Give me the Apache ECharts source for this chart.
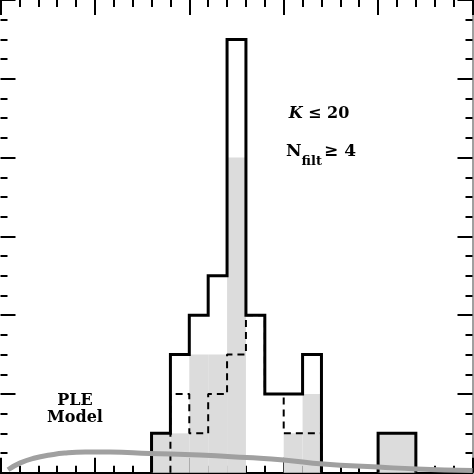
<!DOCTYPE html>
<html>
<head>
<meta charset="utf-8">
<script src="https://cdn.jsdelivr.net/npm/echarts@6/dist/echarts.min.js"></script>
<style>html,body{margin:0;padding:0;background:#fff;overflow:hidden;}#c{width:474px;height:474px;}</style>
</head>
<body>
<div id="c"></div>
<script>
// Histogram bins: width 0.2 starting at 0 (25 bins over 0..5)
const binWidth = 0.2;
const totalCounts  = [0,0,0,0,0,0,0,0,2,6,8,10,22,8,4,4,6,0,0,0,2,2,0,0,0];
const filledCounts = [0,0,0,0,0,0,0,0,2,2,6,6,16,0,0,2,4,0,0,0,2,2,0,0,0];
const dashedCounts = [0,0,0,0,0,0,0,0,0,4,2,4,6,8,4,2,2,0,0,0,0,0,0,0,0];
// PLE model curve
const modelX = [0.08,0.21,0.365,0.525,0.68,0.9,1.16,1.58,2.11,2.61,3.0,3.42,4.0,4.41,5.0];
const modelY = [0.15,0.5,0.75,0.9,1.0,1.05,1.05,0.98,0.9,0.77,0.65,0.44,0.29,0.19,0.11];

function outlineRuns(counts){
  const runs = [];
  let cur = null;
  for (let i = 0; i < counts.length; i++) {
    const x0 = i * binWidth, x1 = (i + 1) * binWidth, c = counts[i];
    if (c > 0) {
      if (!cur) { cur = [[x0, 0]]; }
      cur.push([x0, c], [x1, c]);
    } else if (cur) {
      cur.push([x0, 0]); runs.push(cur); cur = null;
    }
  }
  if (cur) { cur.push([counts.length * binWidth, 0]); runs.push(cur); }
  return runs;
}

const chart = echarts.init(document.getElementById('c'), null, {renderer: 'canvas'});

const tickStyle = {color: '#000', width: 2};
function xAx(pos, lineColor){
  return {
    type: 'value', min: 0, max: 5, interval: 1, position: pos,
    axisLine: {show: !!lineColor, onZero: false, lineStyle: {color: lineColor || '#000', width: 2}},
    axisTick: {show: true, inside: true, length: 15, lineStyle: tickStyle},
    minorTick: {show: true, splitNumber: 5, length: 7, lineStyle: tickStyle},
    axisLabel: {show: false}, splitLine: {show: false}, minorSplitLine: {show: false}
  };
}
function yAx(pos, lineColor){
  return {
    type: 'value', min: 0, max: 24, interval: 4, position: pos,
    axisLine: {show: !!lineColor, onZero: false, lineStyle: {color: lineColor || '#000', width: 2}},
    axisTick: {show: true, inside: true, length: 15, lineStyle: tickStyle},
    minorTick: {show: true, splitNumber: 4, length: 7, lineStyle: tickStyle},
    axisLabel: {show: false}, splitLine: {show: false}, minorSplitLine: {show: false}
  };
}

const series = [];
series.push({
  type: 'custom', xAxisIndex: 0, yAxisIndex: 0, z: 1,
  data: filledCounts.map((c, i) => [i * binWidth, (i + 1) * binWidth, c]).filter(d => d[2] > 0),
  encode: {x: [0, 1], y: 2},
  renderItem: function(params, api){
    const p0 = api.coord([api.value(0), 0]);
    const p1 = api.coord([api.value(1), api.value(2)]);
    return {type: 'rect', shape: {x: p0[0], y: p1[1], width: p1[0] - p0[0], height: p0[1] - p1[1]},
            style: {fill: '#dcdcdc'}};
  }
});
outlineRuns(dashedCounts).forEach(run => series.push({
  type: 'line', data: run, showSymbol: false, z: 2, animation: false,
  lineStyle: {color: '#000', width: 2, type: [7, 5]}
}));
outlineRuns(totalCounts).forEach(run => series.push({
  type: 'line', data: run, showSymbol: false, z: 3, animation: false,
  lineStyle: {color: '#000', width: 3, join: 'miter'}
}));
series.push({
  type: 'line', data: modelX.map((x, i) => [x, modelY[i]]), smooth: true, showSymbol: false, z: 4,
  animation: false, lineStyle: {color: '#a0a0a0', width: 5}
});

const F = '"DejaVu Serif"';
chart.setOption({
  animation: false,
  grid: {left: 0.5, right: 1.5, top: 0, bottom: 1.25},
  xAxis: [xAx('bottom', '#000'), xAx('top', null)],
  yAxis: [yAx('left', null), yAx('right', '#a0a0a0')],
  series: series,
  graphic: [
    {type: 'text', x: 319, y: 114, z: 10,
     style: {text: '{k|K} ≤ 20', textAlign: 'center', textVerticalAlign: 'middle',
             font: 'bold 16px ' + F, fill: '#000',
             rich: {k: {fontStyle: 'italic', fontWeight: 'bold', fontSize: 16, fontFamily: 'DejaVu Serif'}}}},
    {type: 'text', x: 321, y: 149, z: 10,
     style: {text: '{n|N}{s|filt}{n|≥ 4}', textAlign: 'center', textVerticalAlign: 'middle',
             font: 'bold 16px ' + F, fill: '#000',
             rich: {n: {fontSize: 17, fontWeight: 'bold', fontFamily: 'DejaVu Serif', lineHeight: 22, verticalAlign: 'bottom'},
                    s: {fontSize: 13, fontWeight: 'bold', fontFamily: 'DejaVu Serif', lineHeight: 22, verticalAlign: 'bottom', padding: [0, 2, -8, 0]}}}},
    {type: 'text', x: 75, y: 409, z: 10,
     style: {text: 'PLE\nModel', textAlign: 'center', textVerticalAlign: 'middle', lineHeight: 17,
             font: 'bold 16px ' + F, fill: '#000'}}
  ]
});
</script>
</body>
</html>
